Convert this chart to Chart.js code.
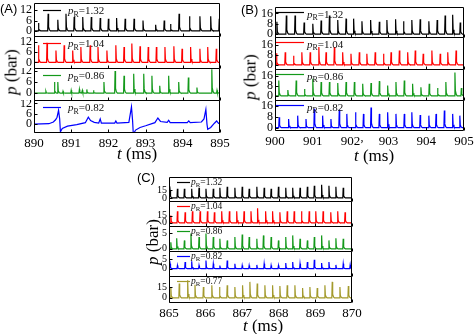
<!DOCTYPE html>
<html><head><meta charset="utf-8">
<script src="https://cdn.jsdelivr.net/npm/chart.js@4.4.1/dist/chart.umd.min.js"></script>
<style>
html,body{margin:0;padding:0;background:#fff;}
#wrap{position:relative;width:474px;height:334px;overflow:hidden;background:#fff;}
#wrap canvas{position:absolute;}
.t{position:absolute;font-family:"Liberation Serif","Times New Roman",serif;color:#000;white-space:nowrap;line-height:1;transform:translate(-50%,-50%);}
.pl{position:absolute;font-family:"Liberation Sans",Arial,sans-serif;font-size:13px;color:#000;line-height:1;}
</style></head><body><div id="wrap"></div>
<script>
// ---------- tick labels ----------
const xTicksA = [890, 891, 892, 893, 894, 895];
const xTicksB = [900, 901, 902, 903, 904, 905];
const xTicksC = [865, 866, 867, 868, 869, 870];
const yTicksA = [0, 6, 12];
const yTicksB = [0, 8, 16];
const yTicksC15 = [0, 15];
const yTicksC5 = [0, 5];
const legendLabels = ['1.32', '1.04', '0.86', '0.82', '0.77'];

// ---------- panel A (spike times in ms, peak pressure in bar) ----------
const aBlackT = [890.12, 890.38, 890.64, 890.86, 891.08, 891.31, 891.54, 891.78, 892.00, 892.22, 892.45, 892.69, 892.93, 893.27, 893.50, 893.67, 893.90, 894.18, 894.46, 894.75, 894.98];
const aBlackP = [4.5, 10, 6.5, 10, 8, 8, 8, 7.5, 7, 7.5, 7, 7, 6, 3.5, 6, 4, 10, 8.5, 8.5, 8.5, 7];
const aRedT = [890.12, 890.35, 890.59, 890.81, 891.04, 891.26, 891.51, 891.72, 891.96, 892.20, 892.42, 892.63, 892.85, 893.07, 893.29, 893.52, 893.76, 893.98, 894.21, 894.46, 894.67, 894.90];
const aRedP = [10, 11.4, 7, 10, 7, 9, 10, 9, 7, 10, 9, 11, 9.4, 9, 9, 9, 9.4, 8, 9, 8, 9, 8];
const aGreenT = [890.32, 890.55, 890.64, 890.78, 891.00, 891.22, 891.30, 891.42, 891.60, 891.88, 892.18, 892.42, 892.68, 892.95, 893.17, 893.38, 893.62, 893.89, 894.15, 894.38, 894.78, 894.92];
const aGreenP = [1, 6, 6, 1, 1.5, 2, 1.5, 2, 1.5, 6, 12, 9.5, 10.5, 10.5, 9.5, 4, 9.5, 6, 8.5, 3, 13, 1.5];
// pR = 0.82 trace in panel A is irregular: full trace samples
const aBlueT = [890.00, 890.40, 890.52, 890.58, 890.62, 890.66, 890.69, 890.71, 890.76, 890.90, 891.15, 891.38, 891.46, 891.52, 891.62, 891.74, 891.78, 891.81, 892.17, 892.20, 892.23, 892.55, 892.62, 892.65, 892.67, 892.73, 892.85, 893.00, 893.25, 893.33, 893.40, 893.58, 893.62, 893.66, 894.12, 894.16, 894.20, 894.50, 894.57, 894.62, 894.65, 894.67, 894.75, 894.85, 894.91, 894.96, 895.00];
const aBlueP = [0, 0.2, 1.2, 2.5, 4, 8, 3, -4.5, -2.5, -1.2, -0.3, 0.8, 4, 2, 1, 0.6, 3, 0.6, 0.6, 1.8, 0.6, 1, 10, 2, -6, -3.5, -2, -1, 0.8, 3.5, 1.5, 1, 2.2, 0.8, 0.8, 1.8, 0.8, 1.2, 3, 8.5, 0, -3, -2, 0.5, 1.8, 0.4, 0.5];

// ---------- panel B ----------
const bBlackT = [900.05, 900.30, 900.53, 900.77, 901.00, 901.22, 901.44, 901.66, 901.88, 902.08, 902.30, 902.53, 902.76, 902.96, 903.19, 903.40, 903.62, 903.84, 904.07, 904.29, 904.50, 904.70, 904.90];
const bBlackP = [9.5, 14.5, 14.5, 9, 8, 10.5, 14.5, 11, 12, 12, 10, 11, 9.5, 11, 11.5, 10, 11, 11.5, 10, 11, 14.5, 15, 9];
const bRedT = [900.04, 900.27, 900.49, 900.71, 900.93, 901.16, 901.35, 901.57, 901.79, 902.01, 902.23, 902.43, 902.65, 902.87, 903.07, 903.29, 903.51, 903.71, 903.92, 904.15, 904.37, 904.57, 904.79];
const bRedP = [9.5, 10.3, 7.5, 10.3, 10.3, 14.5, 10.3, 14.5, 10.3, 9, 10.3, 9, 10.3, 9, 10.3, 11.7, 10.3, 11.7, 9, 11.7, 9, 10.3, 11.7];
const bGreenT = [900.10, 900.34, 900.56, 900.78, 901.00, 901.22, 901.44, 901.66, 901.88, 902.10, 902.32, 902.54, 902.76, 902.98, 903.20, 903.42, 903.64, 903.86, 904.08, 904.30, 904.52, 904.76, 904.93];
const bGreenP = [12.6, 4.8, 12.6, 5.6, 14, 11.2, 11.2, 10.5, 11.2, 11.2, 9.8, 10.5, 12, 8.4, 11.2, 12.6, 9.8, 7, 9.8, 6.4, 11.2, 19, 6.4];
const bBlueT = [900.11, 900.36, 900.60, 900.82, 901.04, 901.26, 901.48, 901.70, 901.90, 902.13, 902.34, 902.54, 902.76, 902.98, 903.20, 903.42, 903.62, 903.84, 904.07, 904.26, 904.48, 904.70, 904.89];
const bBlueP = [7.8, 6.5, 9, 6.5, 14.2, 9, 6.5, 13.4, 10.3, 11.6, 10.3, 15, 10.3, 11.6, 10.3, 10.3, 11.6, 9.5, 9, 10.3, 12.9, 10.3, 9];

// ---------- panel C ----------
const cBlackT = [865.03, 865.23, 865.42, 865.62, 865.82, 866.01, 866.21, 866.39, 866.59, 866.80, 867.00, 867.19, 867.40, 867.60, 867.79, 867.99, 868.19, 868.38, 868.58, 868.78, 868.97, 869.17, 869.37, 869.56, 869.76, 869.99];
const cBlackP = [14, 18, 18, 18, 20, 18, 18, 20, 22, 20, 22, 18, 22, 20, 18, 22, 20, 20, 20, 22, 24, 26, 24, 22, 20, 22];
const cRedT = [865.05, 865.23, 865.44, 865.64, 865.85, 866.05, 866.24, 866.44, 866.65, 866.85, 867.05, 867.24, 867.42, 867.64, 867.83, 868.03, 868.23, 868.42, 868.62, 868.83, 869.01, 869.21, 869.42, 869.61, 869.81, 869.99];
const cRedP = [15, 24, 22, 24, 24, 24, 22, 24, 24, 24, 24, 24, 30, 24, 24, 22, 24, 24, 24, 24, 24, 24, 22, 24, 22, 30];
const cGreenT = [865.05, 865.21, 865.42, 865.60, 865.82, 866.01, 866.21, 866.39, 866.59, 866.80, 867.00, 867.19, 867.40, 867.58, 867.79, 867.99, 868.19, 868.38, 868.58, 868.78, 868.97, 869.17, 869.37, 869.56, 869.76];
const cGreenP = [2.1, 3.4, 2.7, 4.9, 3.8, 4.9, 3.8, 3.2, 2.7, 3.8, 4.6, 3.8, 3.2, 4.3, 3.8, 2.7, 3.8, 4.3, 3.2, 2.7, 3.8, 4.3, 2.7, 3.4, 3.2];
const cBlueT = [865.03, 865.23, 865.44, 865.62, 865.82, 866.01, 866.21, 866.39, 866.59, 866.80, 867.00, 867.19, 867.40, 867.60, 867.79, 867.99, 868.19, 868.38, 868.58, 868.78, 868.97, 869.17, 869.37, 869.56, 869.76, 869.95];
const cBlueP = [2.6, 1.7, 3.5, 3.9, 1.7, 4.4, 2.6, 1.7, 4.4, 2.6, 1.7, 1.7, 2, 2.6, 1.7, 1.7, 3, 3.5, 2.6, 3.5, 4.8, 3, 3.5, 2, 2.6, 2];
const cOliveT = [865.05, 865.28, 865.51, 865.71, 865.94, 866.17, 866.38, 866.59, 866.80, 867.01, 867.21, 867.41, 867.62, 867.83, 868.03, 868.23, 868.44, 868.65, 868.85, 869.05, 869.26, 869.46, 869.67, 869.90];
const cOliveP = [15.5, 20.5, 25.5, 19, 15.5, 18, 15.5, 18, 15.5, 18, 23, 20.5, 18, 18, 17, 18, 18, 14, 15.5, 14, 18, 23, 15.5, 17];

// ---------- rendering helpers ----------
const COLORS = ['#000000', '#ff0000', '#13991a', '#0000ff', '#a39a2c'];
const SERIF = '"Liberation Serif", "Times New Roman", serif';
const SPIKE_DT = [-0.012, 0, 0.012, 0.035, 0.06];
const SPIKE_FR = [0, 1, 0.22, 0.06, 0];

function spikeTrace(times, peaks, xr) {
  const pts = [{x: xr[0], y: 0}];
  times.forEach((t, i) => SPIKE_DT.forEach((d, k) => pts.push({x: t + d, y: peaks[i] * SPIKE_FR[k]})));
  pts.push({x: xr[1], y: 0});
  return pts;
}
function rawTrace(times, vals) { return times.map((t, i) => ({x: t, y: vals[i]})); }

const framePlugin = {
  id: 'frameLegend',
  afterDatasetsDraw(chart, args, o) {
    const ctx = chart.ctx, a = chart.chartArea;
    const L = Math.round(a.left) + 0.5, R = Math.round(a.right) - 0.5;
    const T = Math.round(a.top) + 0.5, B = Math.round(a.bottom) - 0.5;
    ctx.save();
    ctx.strokeStyle = '#000'; ctx.lineWidth = 1;
    ctx.beginPath(); ctx.rect(L, T, R - L, B - T); ctx.stroke();
    const xs = chart.scales.x, ys = chart.scales.y;
    ctx.beginPath();
    o.xTicks.forEach(v => { const p = Math.round(xs.getPixelForValue(v)) + 0.5; ctx.moveTo(p, B); ctx.lineTo(p, B - 3); });
    o.yTicks.forEach(v => { const p = Math.round(ys.getPixelForValue(v)) + 0.5; ctx.moveTo(L, p); ctx.lineTo(L + 3, p); });
    ctx.stroke();
    // legend
    const lg = o.legend;
    ctx.strokeStyle = o.color; ctx.lineWidth = 1.2;
    ctx.beginPath();
    ctx.moveTo(a.left + lg.x0, Math.round(a.top + lg.ly) + 0.5);
    ctx.lineTo(a.left + lg.x1, Math.round(a.top + lg.ly) + 0.5);
    ctx.stroke();
    ctx.fillStyle = '#111'; ctx.textBaseline = 'middle'; ctx.textAlign = 'left';
    let x = a.left + lg.tx; const y = a.top + lg.ty;
    ctx.font = 'italic ' + lg.fs + 'px ' + SERIF; ctx.fillText('p', x, y); x += ctx.measureText('p').width;
    ctx.font = (lg.fs * 0.72) + 'px ' + SERIF; ctx.fillText('R', x, y + lg.fs * 0.3); x += ctx.measureText('R').width;
    ctx.font = lg.fs + 'px ' + SERIF; ctx.fillText('=' + o.label, x, y);
    ctx.restore();
  }
};

const wrap = document.getElementById('wrap');
Chart.defaults.color = '#000';
Chart.defaults.font.family = SERIF;

function addSub(panel, i, sub) {
  const n = panel.bounds.length - 1;
  const top = panel.bounds[i], bot = panel.bounds[i + 1];
  const isBottom = (i === n - 1);
  const yw = panel.yw, RP = 14, xh = isBottom ? panel.xh : 0;
  const W = panel.plotR - panel.plotL + yw + RP;
  const H = bot - top + 1 + xh;
  const cv = document.createElement('canvas');
  cv.width = W; cv.height = H;
  cv.style.left = (panel.plotL - yw) + 'px'; cv.style.top = top + 'px';
  cv.style.width = W + 'px'; cv.style.height = H + 'px';
  wrap.appendChild(cv);
  new Chart(cv, {
    type: 'line',
    data: { datasets: [{ data: sub.data, borderColor: COLORS[i], borderWidth: 1.2, pointRadius: 0, tension: 0, fill: false, clip: 0 }] },
    options: {
      responsive: false, animation: false, devicePixelRatio: 1,
      layout: { autoPadding: false, padding: { left: 0, top: 0, bottom: 0, right: RP } },
      events: [],
      plugins: {
        legend: { display: false }, tooltip: { enabled: false },
        frameLegend: { xTicks: panel.xTicks, yTicks: sub.yTicks, color: COLORS[i], label: legendLabels[i], legend: panel.legend }
      },
      scales: {
        x: {
          type: 'linear', min: panel.xr[0], max: panel.xr[1], display: isBottom,
          grid: { display: false, drawTicks: false }, border: { display: false },
          ticks: { font: { size: 13, family: SERIF }, padding: 3, maxRotation: 0, autoSkip: false, color: '#000', callback: v => String(v) },
          afterBuildTicks: s => { s.ticks = panel.xTicks.map(v => ({ value: v })); },
          afterFit: s => { s.height = xh; s.paddingLeft = 0; s.paddingRight = 0; }
        },
        y: {
          type: 'linear', min: sub.yr[0], max: sub.yr[1],
          grid: { display: false, drawTicks: false }, border: { display: false },
          ticks: { font: { size: panel.yfs, family: SERIF }, padding: 2, autoSkip: false, color: '#000', callback: v => String(v) },
          afterBuildTicks: s => { s.ticks = sub.yTicks.map(v => ({ value: v })); },
          afterFit: s => { s.width = yw; s.paddingTop = 0; s.paddingBottom = 0; }
        }
      }
    },
    plugins: [framePlugin]
  });
}

const panels = [
  { plotL: 34, plotR: 220, bounds: [3, 36, 68, 100, 132], xr: [890, 895], xTicks: xTicksA, yw: 26, xh: 22, yfs: 12,
    legend: { x0: 9, x1: 27, ly: 6.5, tx: 34, ty: 8.5, fs: 11 },
    subs: [
      { data: spikeTrace(aBlackT, aBlackP, [890, 895]), yr: [-3.6, 16.2], yTicks: yTicksA },
      { data: spikeTrace(aRedT, aRedP, [890, 895]), yr: [-3.8, 15.4], yTicks: yTicksA },
      { data: spikeTrace(aGreenT, aGreenP, [890, 895]), yr: [-4.3, 13.7], yTicks: yTicksA },
      { data: rawTrace(aBlueT, aBlueP), yr: [-5.2, 14], yTicks: yTicksA }
    ] },
  { plotL: 275, plotR: 464, bounds: [7, 37, 69, 100, 130], xr: [900, 905], xTicks: xTicksB, yw: 26, xh: 22, yfs: 12,
    legend: { x0: 1, x1: 29, ly: 5, tx: 32, ty: 8, fs: 11 },
    subs: [
      { data: spikeTrace(bBlackT, bBlackP, [900, 905]), yr: [-3, 21], yTicks: yTicksB },
      { data: spikeTrace(bRedT, bRedP, [900, 905]), yr: [-4.2, 22.7], yTicks: yTicksB },
      { data: spikeTrace(bGreenT, bGreenP, [900, 905]), yr: [-4.2, 21.9], yTicks: yTicksB },
      { data: spikeTrace(bBlueT, bBlueP, [900, 905]), yr: [-2.5, 20.7], yTicks: yTicksB }
    ] },
  { plotL: 169, plotR: 352, bounds: [177, 201, 226, 251, 276, 302], xr: [865, 870], xTicks: xTicksC, yw: 24, xh: 22, yfs: 10,
    legend: { x0: 8, x1: 21, ly: 4.5, tx: 22, ty: 5.5, fs: 9.5 },
    subs: [
      { data: spikeTrace(cBlackT, cBlackP, [865, 870]), yr: [-8, 41], yTicks: yTicksC15 },
      { data: spikeTrace(cRedT, cRedP, [865, 870]), yr: [-8.6, 45], yTicks: yTicksC15 },
      { data: spikeTrace(cGreenT, cGreenP, [865, 870]), yr: [-1, 7.3], yTicks: yTicksC5 },
      { data: spikeTrace(cBlueT, cBlueP, [865, 870]), yr: [-4.4, 9.4], yTicks: yTicksC5 },
      { data: spikeTrace(cOliveT, cOliveP, [865, 870]), yr: [-7.5, 31.5], yTicks: yTicksC15 }
    ] }
];
panels.forEach(p => p.subs.forEach((s, i) => addSub(p, i, s)));

// ---------- text overlays ----------
function addText(html, cls, style) {
  const d = document.createElement('div'); d.className = cls; d.innerHTML = html;
  Object.assign(d.style, style); wrap.appendChild(d);
}
addText('(A)', 'pl', { left: '0px', top: '2px' });
addText('(B)', 'pl', { left: '241px', top: '3px' });
addText('(C)', 'pl', { left: '137px', top: '171px' });
[[11, 72], [250, 77], [152, 242]].forEach(([x, y]) =>
  addText('<i>p</i> (bar)', 't', { left: x + 'px', top: y + 'px', fontSize: '17px', transform: 'translate(-50%,-50%) rotate(-90deg)' }));
[[137, 153], [374, 155], [263, 325]].forEach(([x, y]) =>
  addText('<i>t</i> (ms)', 't', { left: x + 'px', top: y + 'px', fontSize: '17px' }));
addText(',', 't', { left: '362px', top: '137px', fontSize: '12px' });
addText(',', 't', { left: '245px', top: '309px', fontSize: '12px' });
</script></body></html>
